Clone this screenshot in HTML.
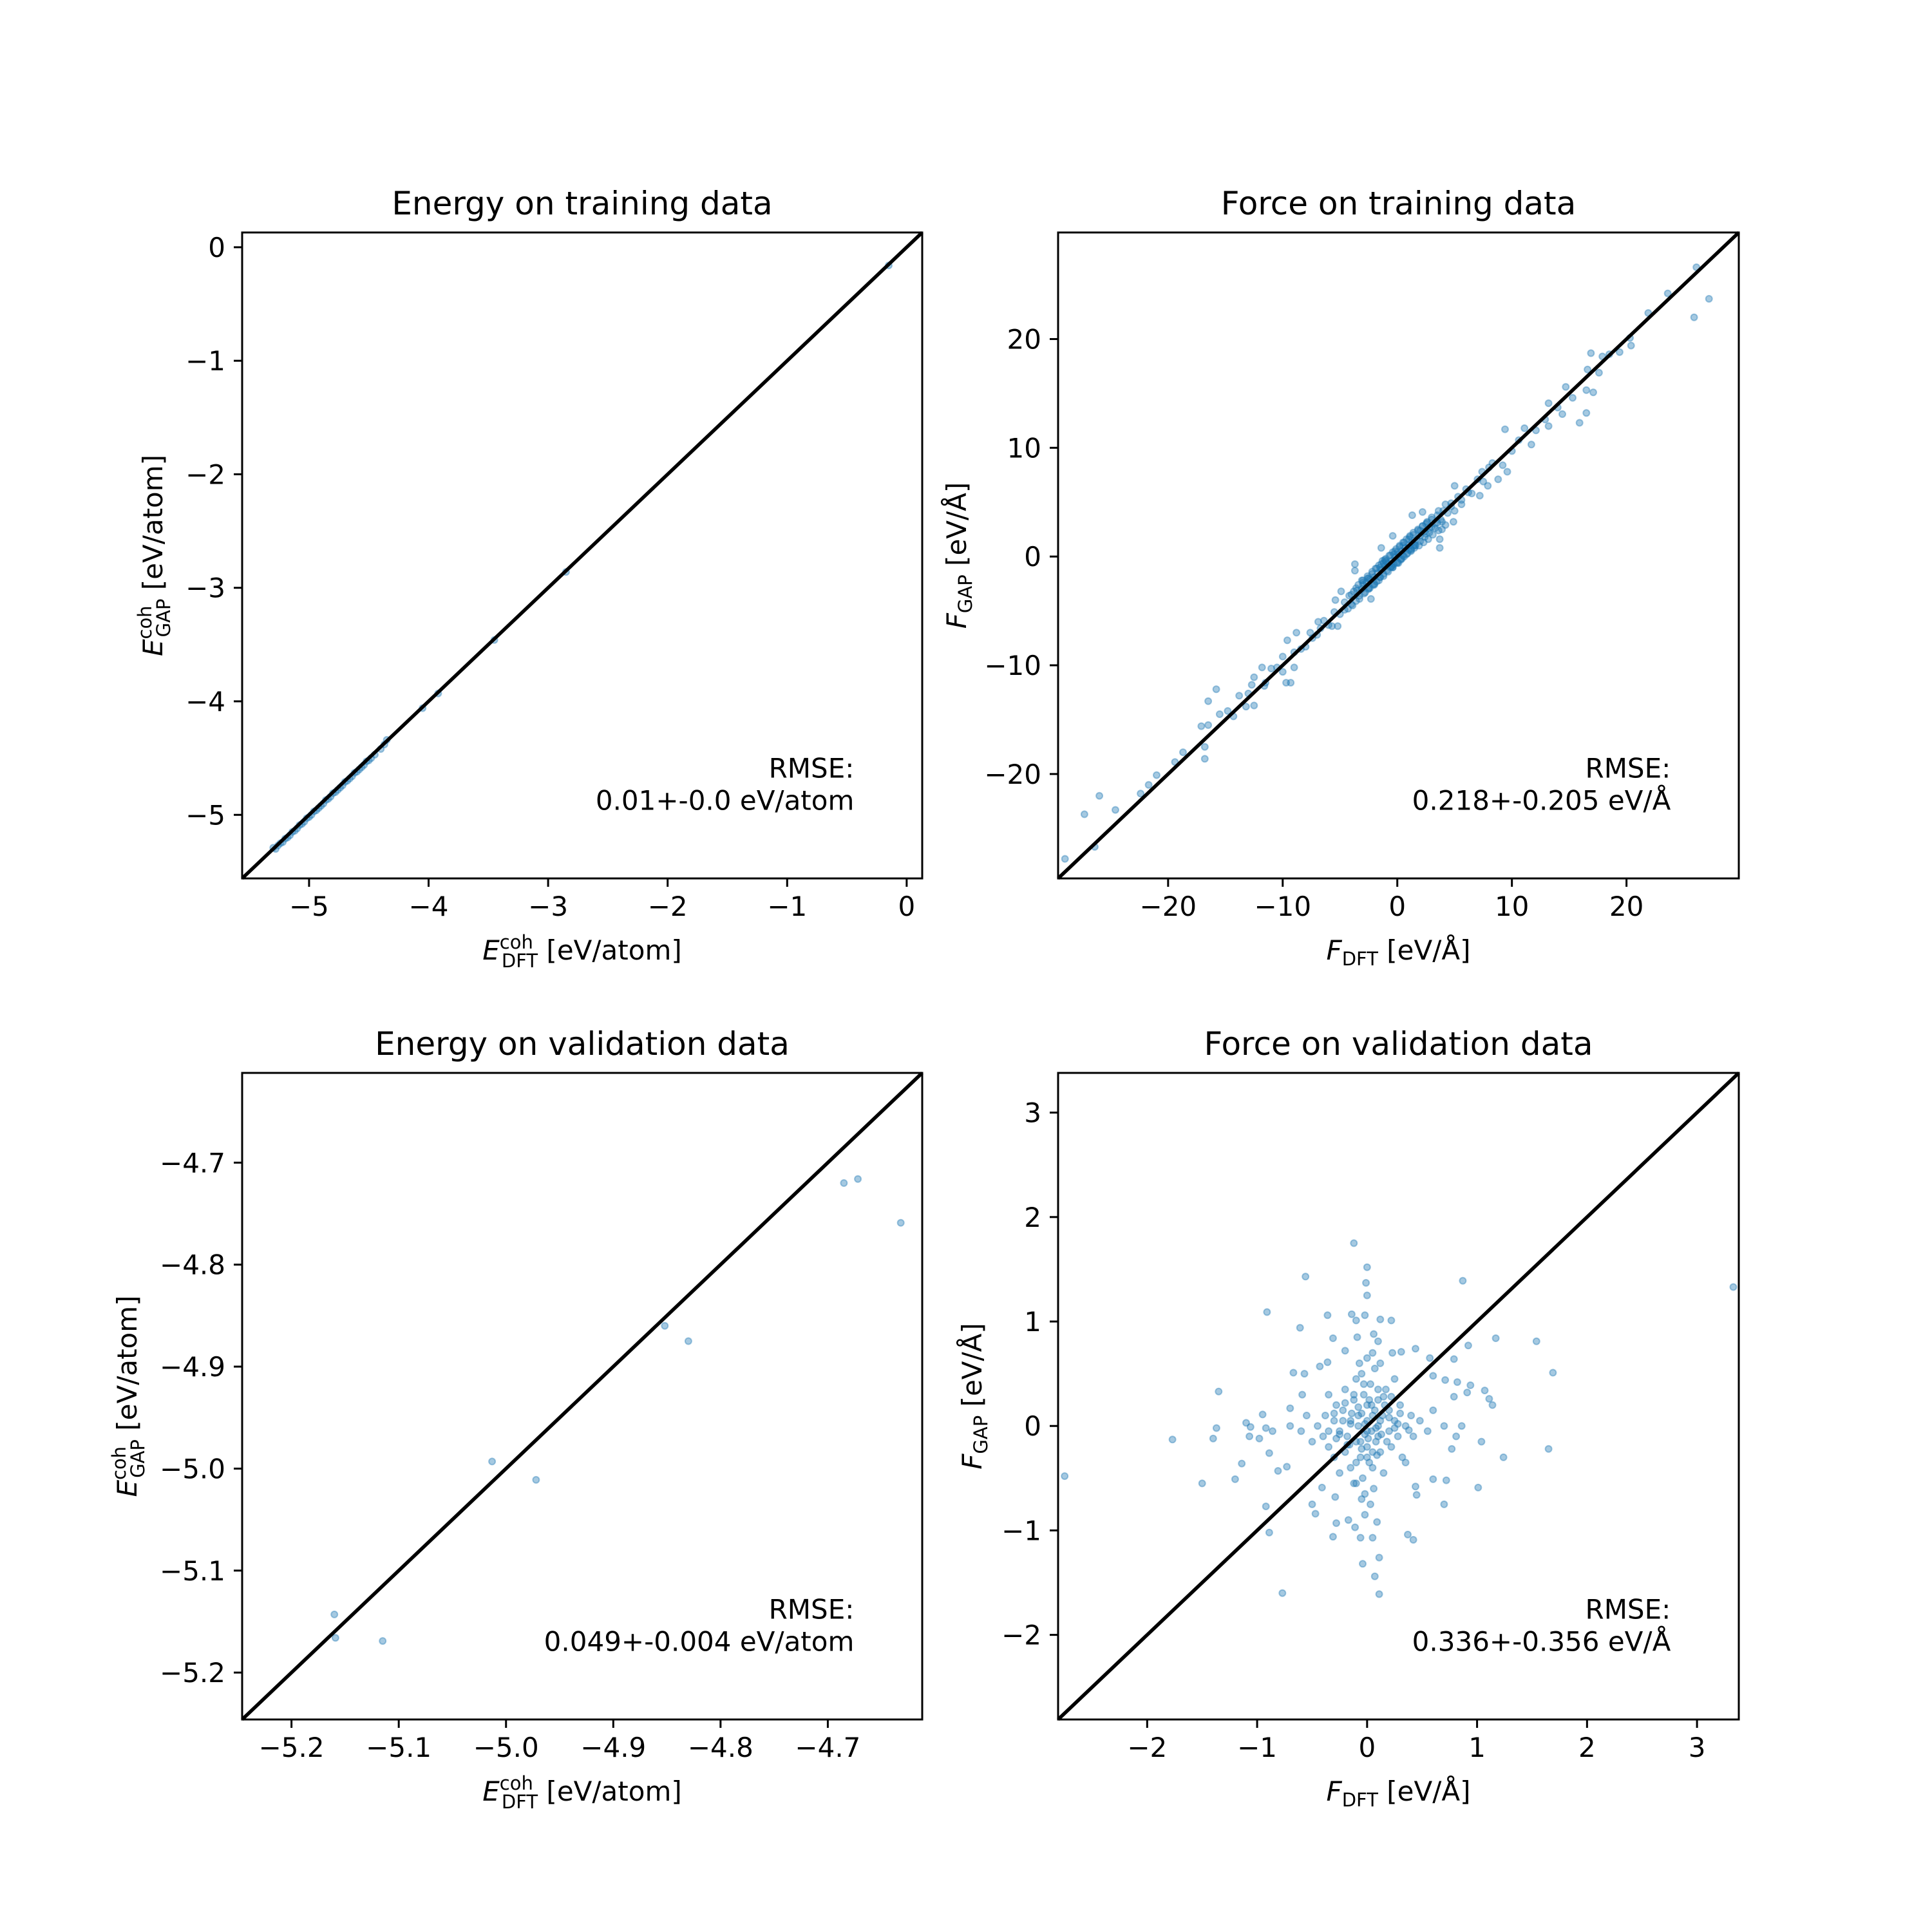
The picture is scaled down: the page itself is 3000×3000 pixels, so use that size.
<!DOCTYPE html>
<html><head><meta charset="utf-8"><style>
html,body{margin:0;padding:0;background:#fff}
svg{display:block}
text{font-family:"DejaVu Sans","Liberation Sans",sans-serif;fill:#000}
</style></head><body>
<svg id="fig" width="3000" height="3000" viewBox="0 0 3000 3000" xmlns="http://www.w3.org/2000/svg">
<rect width="3000" height="3000" fill="#fff"/>
</svg>
<script>
// ---- data: Energy on training data ----
const etrainX = [-5.3,-5.28,-5.26,-5.24,-5.22,-5.2,-5.18,-5.16,-5.14,-5.12,-5.1,-5.08,-5.06,-5.04,-5.02,-5.0,-4.98,-4.96,-4.94,-4.92,-4.9,-4.88,-4.86,-4.84,-4.82,-4.8,-4.78,-4.76,-4.74,-4.72,-4.7,-4.68,-4.66,-4.64,-4.62,-4.6,-4.58,-4.56,-4.54,-4.52,-4.5,-4.48,-4.45,-4.4,-4.37,-4.35,-4.05,-3.92,-3.45,-2.85,-0.15];
const etrainY = [-5.29,-5.3,-5.27,-5.25,-5.24,-5.21,-5.2,-5.18,-5.15,-5.14,-5.12,-5.09,-5.08,-5.06,-5.03,-5.02,-5.0,-4.97,-4.96,-4.94,-4.92,-4.9,-4.87,-4.86,-4.84,-4.81,-4.8,-4.78,-4.76,-4.74,-4.71,-4.7,-4.68,-4.66,-4.63,-4.62,-4.6,-4.58,-4.56,-4.53,-4.52,-4.5,-4.47,-4.42,-4.38,-4.34,-4.06,-3.93,-3.46,-2.86,-0.16];
// ---- data: Force on training data ----
const ftrainX = [-29.0,-26.4,-27.3,-26.0,-24.6,-22.4,-21.7,-21.0,-19.4,-18.7,-16.8,-16.8,-17.1,-16.5,-16.5,-15.8,-15.5,-14.8,-14.3,-13.8,-13.2,-12.5,-12.7,-12.5,-11.8,-11.6,-11.0,-10.0,-9.7,-9.3,-10.0,-9.6,-9.0,-8.8,-8.4,-7.4,-6.9,-6.7,-5.7,-5.2,-5.4,-4.9,-4.6,-3.7,-3.7,-3.1,-2.3,-1.4,-0.4,-0.4,1.3,2.2,3.7,3.7,3.9,4.9,4.7,5.0,5.6,6.2,7.2,7.9,7.4,8.3,8.8,9.6,9.2,10.0,9.4,10.6,11.7,11.1,12.1,12.9,13.2,13.2,14.0,14.4,14.7,15.9,16.5,15.3,16.5,17.1,17.6,16.6,16.9,17.9,18.5,19.4,20.4,20.3,21.9,23.6,25.9,27.2,26.1,
-5,-4.6,-4.3,-4,-4,-3.8,-3.6,-3.4,-3.3,-3.1,-3,-2.9,-2.7,-2.6,-2.5,-2.4,-2.2,-2.1,-2,-1.9,-1.8,-1.7,-1.6,-1.5,-1.4,-1.3,-1.2,-1.1,-1,-0.9,-0.8,-0.7,-0.6,-0.5,-0.4,-0.3,-0.2,-0.1,0,0.1,0.2,0.3,0.4,0.5,0.6,0.7,0.8,0.9,1,1.1,1.2,1.3,1.4,1.5,1.7,1.8,1.9,2,2.2,2.3,2.4,2.6,2.7,2.8,3,3.1,3.3,3.5,3.6,3.8,4,4.2,4.4,4.7,5,5.3,5.6,6,6.5,7,7.5,8,-5.5,-6,-6.4,-7,-7.6,-8,-9,-10.5,-11.5,-13,
-2.5,-1.5,-0.5,0.5,1.5,2.5,-2,-1,0,1,2,-3,3,-0.3,0.3,-1.2,1.2,
-4.2,-3.9,-3.6,-3.3,-3.0,-2.8,-2.6,-2.4,-2.2,-2.0,-1.8,-1.6,-1.4,-1.2,-1.0,-0.8,-0.6,-0.4,-0.2,0,0.2,0.4,0.6,0.8,1.0,1.2,1.4,1.6,1.8,2.0,2.2,2.4,2.6,2.8,3.0,3.3,3.6,3.9,4.2,-3.5,-2.5,-1.5,-0.5,0.5,1.5,2.5,3.5,-1.1,0.1,1.1];
const ftrainY = [-27.8,-26.7,-23.7,-22.0,-23.3,-21.8,-21.0,-20.1,-18.9,-18.0,-18.6,-17.5,-15.6,-15.5,-13.3,-12.2,-14.5,-14.2,-14.7,-12.8,-13.8,-13.7,-11.8,-11.1,-10.2,-11.9,-10.3,-10.6,-11.6,-11.6,-9.2,-7.7,-10.2,-7.0,-8.5,-7.5,-6.0,-6.6,-6.4,-6.4,-4.0,-3.2,-4.9,-0.7,-1.3,-2.2,-3.9,0.8,1.9,-1.0,3.8,4.1,0.8,1.6,2.5,3.2,4.6,6.5,5.2,5.9,5.6,6.5,7.8,8.6,7.1,7.8,8.4,9.7,11.7,10.7,10.3,11.8,11.6,12.6,12.0,14.1,13.7,13.1,15.6,12.3,13.2,14.6,15.3,15.1,16.9,17.2,18.7,18.4,18.6,18.8,19.4,20.1,22.4,24.2,22.0,23.7,26.6,
-5.3,-4.2,-4.8,-3.5,-4.4,-3.2,-4.1,-2.6,-3.6,-3.0,-2.2,-3.4,-2.4,-1.8,-3.0,-2.1,-1.4,-2.6,-1.9,-1.1,-2.3,-1.5,-0.8,-1.9,-1.2,-0.4,-1.6,-0.9,-0.2,-1.3,-0.6,0.1,-1.0,-0.4,0.4,-0.7,-0.1,0.7,-0.5,0.2,1.0,-0.3,0.5,1.3,0.0,0.8,1.6,0.3,1.0,1.9,0.5,1.3,2.2,0.8,1.6,2.5,1.0,1.9,2.8,1.3,2.3,3.1,1.6,2.6,3.4,2.0,3.0,3.8,2.4,3.4,4.2,2.9,4.0,4.9,4.2,5.5,4.8,6.2,5.8,7.1,6.9,8.2,-5.1,-6.3,-5.9,-7.2,-7.0,-8.3,-8.8,-10.2,-11.6,-12.6,
-2.0,-1.9,-0.9,0.1,1.1,2.1,-2.5,-0.5,0.4,0.6,2.4,-2.6,2.7,0.2,-0.2,-0.6,0.7,
-3.6,-4.5,-2.9,-3.9,-2.4,-3.3,-2.0,-2.9,-1.6,-2.6,-1.1,-2.2,-0.7,-1.8,-0.4,-1.4,0.1,-1.0,0.5,-0.6,0.9,-0.2,1.3,0.2,1.6,0.6,2.0,1.0,2.4,1.4,2.8,1.8,3.2,2.2,3.6,2.6,4.2,3.2,4.8,-3.1,-2.9,-1.0,-0.9,1.0,1.0,3.0,3.1,-0.3,-0.6,1.8];
// ---- data: Energy on validation data ----
const evalX = [-5.16,-5.159,-5.115,-5.013,-4.972,-4.852,-4.83,-4.685,-4.672,-4.632];
const evalY = [-5.143,-5.166,-5.169,-4.993,-5.011,-4.86,-4.875,-4.72,-4.716,-4.759];
// ---- data: Force on validation data ----
const fvalX = [-2.75,-1.77,-1.5,-1.4,-1.37,-1.35,-1.2,-1.14,-1.1,-1.07,-1.06,-0.98,-0.95,-0.92,-0.92,-0.91,-0.89,-0.89,-0.86,-0.81,-0.77,-0.73,-0.70,-0.67,-0.61,-0.59,-0.56,-0.57,-0.50,-0.47,-0.43,-0.41,-0.36,-0.36,-0.31,-0.31,-0.29,-0.28,-0.20,-0.17,-0.14,-0.12,-0.11,-0.10,-0.09,-0.06,-0.04,-0.02,-0.01,0,0,0.05,0.06,0.07,0.09,0.10,0.11,0.11,0.12,0.22,0.23,0.31,0.37,0.42,0.44,0.44,0.45,0.57,0.60,0.60,0.70,0.71,0.72,0.77,0.79,0.79,0.81,0.82,0.86,0.87,0.91,0.92,0.94,1.01,1.04,1.07,1.11,1.14,1.17,1.24,1.54,1.65,1.69,3.33,
-0.45,-0.4,-0.38,-0.35,-0.3,-0.3,-0.28,-0.25,-0.22,-0.2,-0.2,-0.18,-0.15,-0.15,-0.12,-0.1,-0.1,-0.08,-0.06,-0.05,-0.04,-0.03,-0.02,0,0,0,0.02,0.03,0.04,0.05,0.06,0.07,0.08,0.1,0.1,0.12,0.14,0.15,0.17,0.2,0.2,0.22,0.25,0.28,0.3,0.32,0.35,0.4,0.42,0.48,-0.5,-0.55,-0.6,0.55,0.6,-0.05,0.05,-0.12,0.12,-0.02,0.0,-0.25,0.25,-0.35,0.35,-0.7,0.7,-0.02,0.01,-0.08,0.08,0.16,-0.16,
-0.3,-0.25,-0.2,-0.18,-0.15,-0.12,-0.1,-0.08,-0.05,-0.03,0,0.02,0.05,0.07,0.1,0.12,0.15,0.18,0.2,0.25,0.3,-0.35,-0.28,-0.22,-0.14,-0.06,0.04,0.09,0.13,0.22,0.28,0.38,-0.1,-0.05,0,0.05,0.1,-0.02,0.03,-0.07];
const fvalY = [-0.48,-0.13,-0.55,-0.12,-0.02,0.33,-0.51,-0.36,0.03,-0.10,-0.01,-0.12,0.11,-0.02,-0.77,1.09,-1.02,-0.26,-0.05,-0.43,-1.6,-0.39,0.17,0.51,0.94,0.30,1.43,0.50,-0.75,-0.84,0.57,-0.59,1.06,0.61,-1.06,0.84,-0.68,-0.93,0.72,-0.90,1.07,1.75,-0.97,1.01,0.85,-1.07,-1.32,1.06,1.37,1.52,1.25,-1.07,0.88,-1.44,-0.92,0.81,-1.26,-1.61,1.02,1.01,0.70,0.71,-1.04,-1.09,0.74,-0.58,-0.66,0.65,-0.51,0.48,-0.75,0.44,-0.52,-0.22,0.64,0.28,-0.10,0.42,0.0,1.39,0.32,0.77,0.39,-0.59,-0.15,0.34,0.26,0.20,0.84,-0.30,0.81,-0.22,0.51,1.33,
0.0,-0.1,0.1,-0.2,0.05,-0.3,0.2,-0.05,0.15,-0.25,0.35,-0.1,0.05,-0.4,0.25,-0.15,0.45,0.0,-0.3,0.12,-0.5,0.3,-0.08,0.05,-0.2,0.2,-0.35,0.4,-0.05,0.1,-0.6,0.55,-0.15,0.0,0.25,-0.25,0.1,-0.45,0.35,-0.05,0.15,-0.2,0.05,-0.1,0.2,-0.3,0.0,0.1,-0.1,0.05,-0.15,0.1,-0.05,-0.05,0.15,-0.7,0.7,-0.55,0.6,-0.85,0.65,-0.45,0.45,0.3,-0.35,0.0,0.0,0.02,-0.12,0.18,-0.02,0.2,-0.18,
0.12,-0.08,0.22,-0.18,0.02,0.3,-0.35,0.1,-0.22,0.4,-0.05,0.25,-0.4,0.15,-0.1,0.05,0.28,-0.15,0.08,-0.02,0.12,-0.05,-0.12,0.05,0.12,-0.15,0.2,-0.28,-0.08,0.28,0.02,-0.04,-0.55,0.5,-0.3,-0.25,0.35,-0.65,-0.75,0.6];
// ---- tick labels ----
const etrainTicks = [-5,-4,-3,-2,-1,0];
const ftrainTicks = [-20,-10,0,10,20];
const evalTicks = [-5.2,-5.1,-5.0,-4.9,-4.8,-4.7];
const fvalTicks = [-2,-1,0,1,2,3];

const NS = "http://www.w3.org/2000/svg";
const svg = document.getElementById('fig');
function mk(tag, attrs, parent){
  const e = document.createElementNS(NS, tag);
  for (const k in attrs) e.setAttribute(k, attrs[k]);
  (parent||svg).appendChild(e);
  return e;
}
function fmt(v, dec){ const s = Math.abs(v).toFixed(dec); return (v < 0 ? "\u2212" : "") + s; }
const FS = 42;

function panel(o){
  const g = mk('g', {});
  
  
  const L=o.x0, T=o.y0, W=o.w, H=o.h;
  const sx = v => L + (v - o.lim[0]) / (o.lim[1]-o.lim[0]) * W;
  const sy = v => T + H - (v - o.lim[0]) / (o.lim[1]-o.lim[0]) * H;
  const pg = mk('g', {}, g);
  
  
  const n = Math.min(o.xs.length, o.ys.length);
  for (let i=0;i<n;i++){
    const c = mk('circle', {cx:sx(o.xs[i]).toFixed(1), cy:sy(o.ys[i]).toFixed(1), r:5, fill:'#1f77b4','fill-opacity':0.4, stroke:'#1f77b4','stroke-opacity':0.4,'stroke-width':2}, pg);
    
    
  }
  const d = mk('line', {x1:sx(o.lim[0]), y1:sy(o.lim[0]), x2:sx(o.lim[1]), y2:sy(o.lim[1]), stroke:'#000','stroke-width':5.5}, g);
  
  
  const f = mk('rect', {x:L, y:T, width:W, height:H, fill:'none', stroke:'#000', 'stroke-width':3}, g);
  
  
  for (const t of o.ticks){
    const X = sx(t), Y = sy(t);
    mk('line', {x1:X, y1:T+H, x2:X, y2:T+H+13, stroke:'#000','stroke-width':3}, g);
    const tx = mk('text', {x:X, y:T+H+58, 'font-size':FS, 'text-anchor':'middle'}, g);
    tx.textContent = fmt(t, o.dec);
    
    
    mk('line', {x1:L-13, y1:Y, x2:L, y2:Y, stroke:'#000','stroke-width':3}, g);
    const ty = mk('text', {x:L-26, y:Y+15, 'font-size':FS, 'text-anchor':'end'}, g);
    ty.textContent = fmt(t, o.dec);
    
    
  }
  const ti = mk('text', {x:L+W/2, y:T-28, 'font-size':50, 'text-anchor':'middle'}, g);
  ti.textContent = o.title;
  
  
  const r1 = mk('text', {x:L+0.9*W, y:T+H-0.1*H-56, 'font-size':FS, 'text-anchor':'end'}, g);
  r1.textContent = 'RMSE:';
  
  
  const r2 = mk('text', {x:L+0.9*W, y:T+H-0.1*H-6, 'font-size':FS, 'text-anchor':'end'}, g);
  r2.textContent = o.rmse;
  
  
  const xl = mk('text', {x:L+W/2, y:T+H+126, 'font-size':FS, 'text-anchor':'middle'}, g);
  
  
  xl.innerHTML = o.xlab;
  const yl = mk('text', {x:0, y:0, 'font-size':FS, 'text-anchor':'middle', transform:`translate(${o.ylx},${T+H/2}) rotate(-90)`}, g);
  
  
  yl.innerHTML = o.ylab;
}
const Elab = sub => `<tspan font-style="italic">E</tspan><tspan font-size="29" dy="-17">coh</tspan><tspan font-size="29" dx="-49" dy="29">${sub}</tspan><tspan dy="-12"> [eV/atom]</tspan>`;
const Flab = sub => `<tspan font-style="italic">F</tspan><tspan font-size="29" dy="9">${sub}</tspan><tspan dy="-9"> [eV/Å]</tspan>`;

panel({name:'energy-training-panel', x0:376, y0:361, w:1056, h:1003, lim:[-5.56,0.13], xs:etrainX, ys:etrainY, ticks:etrainTicks, dec:0,
  title:'Energy on training data', rmse:'0.01+-0.0 eV/atom', xlab:Elab('DFT'), ylab:Elab('GAP'), ylx:252});
panel({name:'force-training-panel', x0:1643, y0:361, w:1057, h:1003, lim:[-29.6,29.8], xs:ftrainX, ys:ftrainY, ticks:ftrainTicks, dec:0,
  title:'Force on training data', rmse:'0.218+-0.205 eV/Å', xlab:Flab('DFT'), ylab:Flab('GAP'), ylx:1500});
panel({name:'energy-validation-panel', x0:376, y0:1666, w:1056, h:1004, lim:[-5.246,-4.612], xs:evalX, ys:evalY, ticks:evalTicks, dec:1,
  title:'Energy on validation data', rmse:'0.049+-0.004 eV/atom', xlab:Elab('DFT'), ylab:Elab('GAP'), ylx:212});
panel({name:'force-validation-panel', x0:1643, y0:1666, w:1057, h:1004, lim:[-2.81,3.38], xs:fvalX, ys:fvalY, ticks:fvalTicks, dec:0,
  title:'Force on validation data', rmse:'0.336+-0.356 eV/Å', xlab:Flab('DFT'), ylab:Flab('GAP'), ylx:1524});
</script>
</body></html>
